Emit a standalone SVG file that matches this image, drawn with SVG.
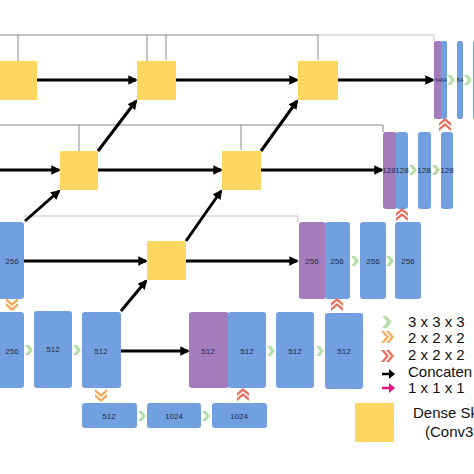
<svg xmlns="http://www.w3.org/2000/svg" width="474" height="474" viewBox="0 0 474 474">
<defs>
<style>
.b{fill:#729fdf}
.p{fill:#a47cbc}
.y{fill:#fdd762}
.t{font-family:"Liberation Sans",Arial,sans-serif;font-size:8px;fill:#1e2a4a;text-anchor:middle;dominant-baseline:central}
.g{fill:#b6dea6}
.o{fill:#f4a95a}
.r{fill:#e9705f}
.ln{stroke:#8a8a8a;stroke-width:1;fill:none}
.ll{stroke:#c4c4c4;stroke-width:1;fill:none}
.ar{stroke:#000;stroke-width:3;fill:none;marker-end:url(#ah)}
.lg{font-family:"Liberation Sans",Arial,sans-serif;font-size:15px;fill:#111}
</style>
<marker id="ah" viewBox="0 0 10 10" refX="8" refY="5" markerWidth="3.2" markerHeight="3.2" orient="auto" markerUnits="strokeWidth">
<path d="M0,0 L10,5 L0,10 Z" fill="#000"/>
</marker>
<path id="chev" d="M-4,-5 L0,-5 L4,0 L0,5 L-4,5 L0,0 Z"/>
<g id="dbl"><path d="M-6,-6 L0,-1 L6,-6 L6,-3 L0,2 L-6,-3 Z"/><path d="M-6,-1 L0,4 L6,-1 L6,2 L0,7 L-6,2 Z"/></g>
</defs>

<g id="connectors">
<path class="ln" d="M0,35 H318"/>
<path class="ll" d="M318,35 H434 V41"/>
<path class="ln" d="M18,35 V61 M147,35 V61 M166,35 V60 M318,35 V60"/>
<path class="ln" d="M0,125 H383 V132"/>
<path class="ln" d="M79,125 V151 M241,125 V150"/>
<path class="ll" d="M24,216 H298 V222"/>
<path class="ar" d="M37,80 H136"/>
<path class="ar" d="M176,80 H297"/>
<path class="ar" d="M338,80 H433"/>
<path class="ar" d="M0,170 H59"/>
<path class="ar" d="M98,170 H221"/>
<path class="ar" d="M261,170 H382"/>
<path class="ar" d="M24,261 H146"/>
<path class="ar" d="M186,261 H297"/>
<path class="ar" d="M121,351 H188"/>
<path class="ar" d="M98,151 L136,101"/>
<path class="ar" d="M261,151 L297,101"/>
<path class="ar" d="M25,221 L59,191"/>
<path class="ar" d="M186,241 L221,191"/>
<path class="ar" d="M121,311 L146,281"/>
</g>

<g id="skip-nodes">
<rect id="y1" class="y" x="0" y="61" width="37" height="39"/>
<rect id="y2" class="y" x="137" y="61" width="39" height="39"/>
<rect id="y3" class="y" x="298" y="61" width="40" height="39"/>
<rect id="y4" class="y" x="60" y="151" width="38" height="39"/>
<rect id="y5" class="y" x="222" y="151" width="39" height="39"/>
<rect id="y6" class="y" x="147" y="241" width="39" height="39"/>
</g>

<g id="enc256a"><rect class="b" x="-4" y="222" width="28" height="77" rx="3"/><text class="t" x="12" y="261">256</text></g>
<g id="enc256b"><rect class="b" x="-4" y="312" width="28" height="76" rx="3"/><text class="t" x="12" y="351">256</text></g>
<g id="enc512a"><rect class="b" x="34" y="311" width="38" height="77" rx="3"/><text class="t" x="53" y="349">512</text></g>
<g id="enc512b"><rect class="b" x="82" y="312" width="39" height="76" rx="3"/><text class="t" x="101" y="351">512</text></g>
<g id="bot512"><rect class="b" x="82" y="403" width="55" height="25" rx="3"/><text class="t" x="109" y="416">512</text></g>
<g id="bot1024a"><rect class="b" x="147" y="403" width="54" height="25" rx="3"/><text class="t" x="174" y="416">1024</text></g>
<g id="bot1024b"><rect class="b" x="212" y="403" width="55" height="25" rx="3"/><text class="t" x="239" y="416">1024</text></g>

<g id="dec512"><rect class="p" x="189" y="312" width="40" height="76" rx="3"/><rect class="b" x="228" y="312" width="38" height="76" rx="3"/><text class="t" x="208" y="351">512</text><text class="t" x="247" y="351">512</text></g>
<g id="dec512b"><rect class="b" x="276" y="312" width="38" height="76" rx="3"/><text class="t" x="295" y="351">512</text></g>
<g id="dec512c"><rect class="b" x="325" y="313" width="38" height="76" rx="3"/><text class="t" x="344" y="351">512</text></g>

<g id="dec256"><rect class="p" x="299" y="222" width="27" height="77" rx="3"/><rect class="b" x="325" y="222" width="25" height="77" rx="3"/><text class="t" x="312" y="261">256</text><text class="t" x="337" y="261">256</text></g>
<g id="dec256b"><rect class="b" x="360" y="222" width="26" height="77" rx="3"/><text class="t" x="373" y="261">256</text></g>
<g id="dec256c"><rect class="b" x="395" y="222" width="26" height="77" rx="3"/><text class="t" x="408" y="261">256</text></g>

<g id="dec128"><rect class="p" x="383" y="132" width="14" height="77" rx="3"/><rect class="b" x="396" y="132" width="12" height="77" rx="3"/><text class="t" x="389" y="170">128</text><text class="t" x="402" y="170">128</text></g>
<g id="dec128b"><rect class="b" x="418" y="132" width="13" height="77" rx="3"/><text class="t" x="424" y="170">128</text></g>
<g id="dec128c"><rect class="b" x="441" y="132" width="12" height="77" rx="3"/><text class="t" x="447" y="170">128</text></g>

<g id="dec64"><rect class="p" x="434" y="41" width="8" height="78" rx="2"/><rect class="b" x="441" y="41" width="6" height="78" rx="2"/><text class="t" x="441" y="80" style="font-size:5px">6464</text></g>
<g id="dec64b"><rect class="b" x="457" y="41" width="6" height="78" rx="2"/><text class="t" x="460" y="80" style="font-size:6px">64</text></g>
<g id="dec64c"><rect class="b" x="473" y="41" width="6" height="78" rx="2"/></g>

<g id="ops">
<use href="#chev" class="g" x="29" y="350"/>
<use href="#chev" class="g" x="77" y="350"/>
<use href="#chev" class="g" x="271" y="351"/>
<use href="#chev" class="g" x="320" y="351"/>
<use href="#chev" class="g" x="142" y="416"/>
<use href="#chev" class="g" x="206" y="416"/>
<use href="#chev" class="g" x="355" y="261"/>
<use href="#chev" class="g" x="390" y="261"/>
<use href="#chev" class="g" x="413" y="170"/>
<use href="#chev" class="g" x="436" y="170"/>
<use href="#chev" class="g" x="451" y="80"/>
<use href="#chev" class="g" x="468" y="80"/>
<use href="#dbl" class="o" x="12" y="304"/>
<use href="#dbl" class="o" x="101" y="395"/>
<use href="#dbl" class="r" transform="translate(243,395) scale(1,-1)"/>
<use href="#dbl" class="r" transform="translate(337,305) scale(1,-1)"/>
<use href="#dbl" class="r" transform="translate(402,215) scale(1,-1)"/>
<use href="#dbl" class="r" transform="translate(445,125) scale(1,-1)"/>
</g>

<g id="legend">
<use href="#chev" class="g" transform="translate(387,322) scale(1.2)"/>
<g class="o" transform="translate(387,337) rotate(-90)"><use href="#dbl"/></g>
<g class="r" transform="translate(387,356) rotate(-90)"><use href="#dbl"/></g>
<path d="M382,374 H391" stroke="#000" stroke-width="2.5"/><path d="M389,369 L395,374 L389,379 Z" fill="#000"/>
<path d="M382,388 H391" stroke="#e0147e" stroke-width="2.5"/><path d="M389,383 L395,388 L389,393 Z" fill="#e0147e"/>
<text class="lg" x="408" y="327">3 x 3 x 3</text>
<text class="lg" x="408" y="343">2 x 2 x 2</text>
<text class="lg" x="408" y="360">2 x 2 x 2</text>
<text class="lg" x="408" y="377">Concaten</text>
<text class="lg" x="408" y="393">1 x 1 x 1</text>
<rect class="y" x="355" y="403" width="39" height="39"/>
<text class="lg" x="413" y="418">Dense Sk</text>
<text class="lg" x="425" y="437">(Conv3</text>
</g>
</svg>
